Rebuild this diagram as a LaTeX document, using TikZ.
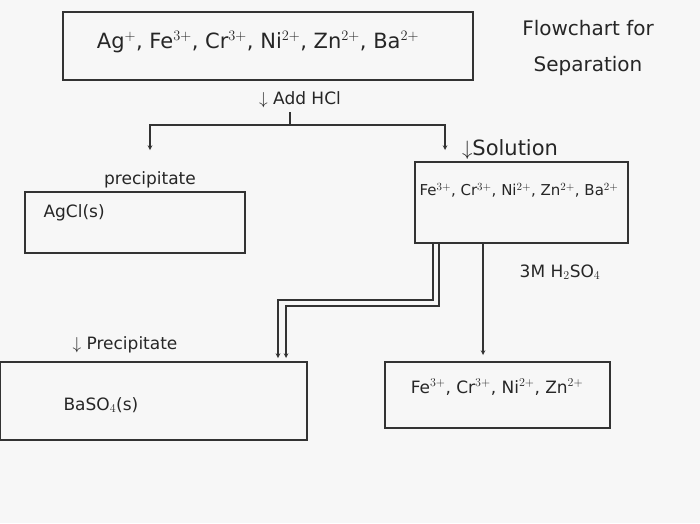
\documentclass[tikz,border=0pt]{standalone}
\usepackage{fontspec}
\setmainfont{DejaVu Sans}
\begin{document}
\begin{tikzpicture}[x=1pt,y=-1pt,
  box/.style={draw=black!80,line width=1.1pt},
  txt/.style={font=\fontsize{17}{20}\selectfont,text=black!85},
  con/.style={draw=black!80,line width=1.1pt,-stealth}]
\fill[gray!6] (0,0) rectangle (700,523);
\useasboundingbox (0,0) rectangle (700,523);
\draw[box] (63,12) rectangle (473,80);
\node[txt,font=\fontsize{21}{24}\selectfont] (top) at (258,42) {Ag$^{+}$, Fe$^{3+}$, Cr$^{3+}$, Ni$^{2+}$, Zn$^{2+}$, Ba$^{2+}$};
\node[txt,font=\fontsize{20}{36}\selectfont,align=center] (title) at (588,48) {Flowchart for\\Separation};
\node[txt] (hcl) at (300,100) {$\downarrow$ Add HCl};
\coordinate (j) at (290,125);
\draw[box] (290,112) -- (j);
\draw[con] (j) -- (150,125) -- (150,150);
\draw[con] (j) -- (445,125) -- (445,150);
\node[txt] (p1) at (150,180) {precipitate};
\draw[box] (25,192) rectangle (245,253);
\node[txt,anchor=west] (agcl) at (40,213) {AgCl(s)};
\node[txt,font=\fontsize{21}{24}\selectfont] (sol) at (510,150) {$\downarrow$Solution};
\draw[box] (415,162) rectangle (628,243);
\node[txt,anchor=west,font=\fontsize{15}{18}\selectfont] (s) at (416,190) {Fe$^{3+}$, Cr$^{3+}$, Ni$^{2+}$, Zn$^{2+}$, Ba$^{2+}$};
\draw[con] (433,243) -- (433,300) -- (278,300) -- (278,358);
\draw[con] (439,243) -- (439,306) -- (286,306) -- (286,358);
\draw[con] (483,243) -- (483,355);
\node[txt] (h2so4) at (560,272) {3M H$_2$SO$_4$};
\node[txt] (p2) at (125,345) {$\downarrow$ Precipitate};
\draw[box] (0,362) rectangle (307,440);
\node[txt,anchor=west] (ba) at (60,405) {BaSO$_4$(s)};
\draw[box] (385,362) rectangle (610,428);
\node[txt] (f) at (497,387) {Fe$^{3+}$, Cr$^{3+}$, Ni$^{2+}$, Zn$^{2+}$};
\end{tikzpicture}
\end{document}
